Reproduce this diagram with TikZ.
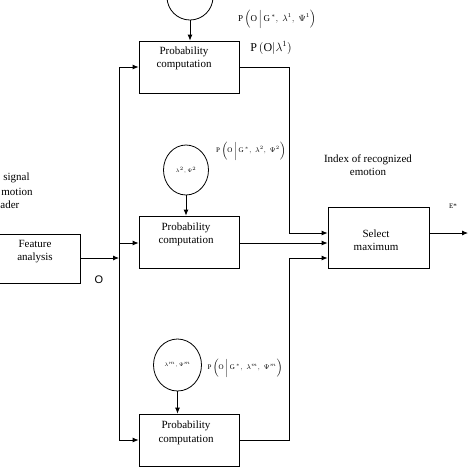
\documentclass[tikz,border=0pt]{standalone}
\usepackage{fontspec}
\setmainfont{Liberation Serif}
\newfontfamily\arialfont{Liberation Sans}
\usetikzlibrary{arrows.meta,shapes.geometric}
\newcommand{\pform}[3]{$\mathrm{P}\left(\rule[-#2]{0pt}{#3}\mathrm{O}\,\middle|\,\mathrm{G}^{\,*},\;\lambda^{#1},\;\Psi^{#1}\right)$}
\begin{document}
\begin{tikzpicture}[x=1pt,y=-1pt,line width=0.8pt,
  boxnode/.style={draw,minimum width=100pt,minimum height=52pt,inner sep=0pt},
  txt/.style={font=\fontsize{11}{13.5}\selectfont,align=center,inner sep=0pt},
  model/.style={draw,ellipse,inner sep=0pt},
  arr/.style={-{Latex[length=6pt,width=5pt]}}]
\clip (0,0) rectangle (474,467);
\fill[white] (0,0) rectangle (474,467);
% boxes
\node[boxnode] (b1) at (189,67) {};
\node[boxnode] (b2) at (189,242) {};
\node[boxnode] (b3) at (189,440) {};
\node[boxnode,minimum width=110pt,minimum height=49pt] (fa) at (25,258.5) {};
\node[boxnode,minimum width=101pt,minimum height=61pt] (sel) at (378.5,237.5) {};
% box texts
\node[txt] (b1t) at (184,58.5) {Probability\\computation};
\node[txt] (b2t) at (186,234.5) {Probability\\computation};
\node[txt] (b3t) at (186,433) {Probability\\computation};
\node[txt] (fat) at (35,251.5) {Feature\\analysis};
\node[txt] (selt) at (376,240) {Select\\maximum};
\node[txt] (idx) at (368,165) {Index of recognized\\emotion};
% left cropped text
\node[txt,anchor=west] (s1) at (3,178) {signal};
\node[txt,anchor=west] (s2) at (1,192) {motion};
\node[txt,anchor=west] (s3) at (0,205) {ader};
% models
\node[model,minimum width=46pt,minimum height=46pt] (c1) at (190,-3) {};
\node[model,minimum width=45pt,minimum height=50pt] (c2) at (186,170)
  {\fontsize{5}{6}\selectfont$\lambda^{2},\Psi^{2}$};
\node[model,minimum width=48pt,minimum height=52pt] (cm) at (177.5,365)
  {\fontsize{5}{6}\selectfont$\lambda^{m},\Psi^{m}$};
% formulas
\node[inner sep=0pt] (f1) at (277,19) {\fontsize{9}{10}\selectfont\pform{1}{6.5pt}{15pt}};
\node[inner sep=0pt] (p1) at (271,48) {\fontsize{12}{14}\selectfont$\mathrm{P}\left(\rule[-3pt]{0pt}{12pt}\mathrm{O}\middle|\lambda^{1}\right)$};
\node[inner sep=0pt] (f2) at (251,151) {\fontsize{7}{8}\selectfont\pform{2}{7pt}{16pt}};
\node[inner sep=0pt] (fm) at (245,368) {\fontsize{7}{8}\selectfont\pform{m}{7pt}{16pt}};
\node[inner sep=0pt] (es) at (453,206) {\fontsize{7}{8}\selectfont E*};
\node[inner sep=0pt] (o) at (99,280) {\arialfont\fontsize{11}{13}\selectfont O};
% junctions
\coordinate (lt) at (119,67);
\coordinate (lb) at (119,440);
\coordinate (l2) at (119,243);
\coordinate (lf) at (119,258);
\coordinate (r1) at (289,67);
\coordinate (r3) at (289,440);
\coordinate (out) at (468,233);
% connectors
\draw[arr] (c1.south) -- (b1.north -| c1.south);
\draw[arr] (c2.south) -- (b2.north -| c2.south);
\draw[arr] (cm.south) -- (b3.north -| cm.south);
\draw (lt) -- (lb);
\draw[arr] (lt) -- (b1.west |- lt);
\draw[arr] (l2) -- (b2.west |- l2);
\draw[arr] (lb) -- (b3.west |- lb);
\draw[arr] (fa.east |- lf) -- (lf);
\draw[arr] (b1.east |- r1) -- (r1) -- (289,233) -- (sel.west |- 0,233);
\draw[arr] (b2.east |- 0,243) -- (sel.west |- 0,243);
\draw[arr] (b3.east |- r3) -- (r3) -- (289,258) -- (sel.west |- 0,258);
\draw[arr] (sel.east |- out) -- (out);
\end{tikzpicture}
\end{document}
